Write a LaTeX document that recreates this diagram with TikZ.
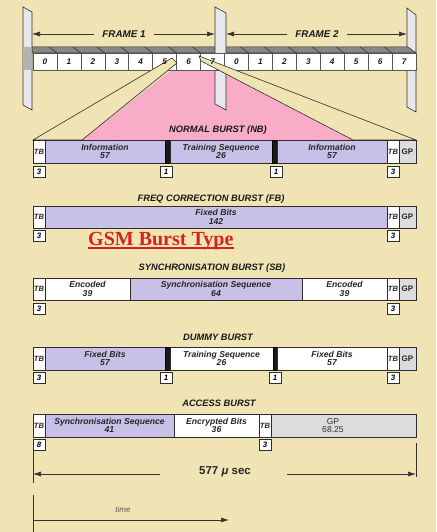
\documentclass[tikz,border=0pt]{standalone}
\usepackage{fontspec}
\setmainfont{Liberation Sans}
\newfontfamily\serifb{Liberation Serif}
\usetikzlibrary{arrows.meta}
\definecolor{bg}{RGB}{240,228,180}
\definecolor{lav}{RGB}{200,192,230}
\definecolor{pinkf}{RGB}{249,172,200}
\definecolor{gpgray}{RGB}{220,220,222}
\definecolor{edge}{RGB}{45,45,45}
\definecolor{platec}{RGB}{232,232,236}
\definecolor{topgray}{RGB}{135,135,135}
\definecolor{gsmred}{RGB}{215,35,30}
\newcommand{\bseg}[7]{\node[#6, minimum width={(#3-#2)*1pt}, minimum height={(#5-#4)*1pt}] (#1) at ({(#2+#3)/2},{(#4+#5)/2}) {#7};}
\tikzset{
  seg/.style={draw=edge, line width=0.8pt, inner sep=0pt, align=center, text=black!85,
    font=\fontsize{8.6}{8.6}\selectfont\bfseries\itshape},
  lavseg/.style={seg, fill=lav},
  whiteseg/.style={seg, fill=white},
  tbseg/.style={seg, fill=white, font=\fontsize{7.6}{7.6}\selectfont\bfseries\itshape},
  gpseg/.style={seg, fill=gpgray, font=\fontsize{8}{8}\selectfont\bfseries},
  sepseg/.style={draw=black, fill=black!90, inner sep=0pt, line width=0.5pt},
  smallbox/.style={draw=edge, fill=white, line width=0.7pt, minimum width=12pt, minimum height=11pt,
    inner sep=0pt, font=\fontsize{7.8}{7.8}\selectfont\bfseries\itshape},
  title/.style={inner sep=0pt, text=black!90, font=\fontsize{9.3}{9.3}\selectfont\bfseries\itshape},
  slot/.style={draw=edge!80, fill=white, line width=0.6pt, inner sep=0pt},
  digit/.style={inner sep=0pt, text=black!90, font=\fontsize{8.2}{8.2}\selectfont\bfseries\itshape},
  platep/.style={fill=platec, draw=edge, line width=0.6pt},
  bandp/.style={fill=bg, draw=edge, line width=0.6pt},
  arr/.style={-{Latex[length=8pt,width=5pt]}, draw=black!80, line width=0.7pt},
  vline/.style={draw=black!80, line width=0.7pt},
  lbl/.style={inner sep=0pt}
}
\begin{document}
\begin{tikzpicture}[x=1pt,y=-1pt]
\fill[bg] (0,0) rectangle (436,532);
\useasboundingbox (0,0) rectangle (436,532);

% pink funnel
\fill[pinkf] (177,66) -- (201,61) -- (353,140) -- (82,140) -- cycle;

% left and right plates (behind the strip)
\path[platep] (23,7) -- (32,12) -- (32,110) -- (23,105) -- cycle;
\fill[gray!60] (23.3,47) rectangle (31.7,70);
\path[platep] (407,8) -- (416,15) -- (416,112) -- (407,107) -- cycle;

% strip top face
\filldraw[fill=topgray, draw=edge, line width=0.5pt] (32,47) -- (408,47) -- (416,53) -- (32,53) -- cycle;
\foreach \k in {1,...,15} {
  \draw[edge, line width=0.5pt] ({33+23.9375*\k},53) -- ++(-8,-6);
}
% middle plate (in front of top face)
\path[platep] (215,7) -- (226,13) -- (226,110) -- (215,104) -- cycle;

% slots
\foreach \k in {0,...,15} {
  \node[slot, minimum width=23.94pt, minimum height=17pt] (s\k) at ({33+23.9375*\k+11.97},61.5) {};
}

% frame arrows
\node[title, font=\fontsize{9.8}{9.8}\selectfont\bfseries\itshape] (f1) at (124,34) {FRAME 1};
\node[title, font=\fontsize{9.8}{9.8}\selectfont\bfseries\itshape] (f2) at (317,34) {FRAME 2};
\coordinate (f1l) at (32,34); \coordinate (f1r) at (215,34);
\coordinate (f2l) at (226,34); \coordinate (f2r) at (407,34);
\draw[arr] ([xshift=-8pt]f1.west) -- (f1l);
\draw[arr] ([xshift=8pt]f1.east) -- (f1r);
\draw[arr] ([xshift=-8pt]f2.west) -- (f2l);
\draw[arr] ([xshift=8pt]f2.east) -- (f2r);

% funnel bands
\path[bandp] (172,58) -- (177,63) -- (82,140) -- (33,140) -- cycle;
\path[bandp] (199,56) -- (201,61) -- (353,140) -- (416,140) -- cycle;

% slot digits (on top)
\foreach \k in {0,...,15} {
  \pgfmathtruncatemacro\dd{mod(\k,8)}
  \node[digit] (d\k) at (s\k) {\dd};
}

% NORMAL BURST
\node[title] (tnb) at (218,130) {NORMAL BURST (NB)};
\bseg{nbtb1}{33}{45}{140}{163}{tbseg}{TB}
\bseg{nbi1}{45}{165}{140}{163}{lavseg}{Information\\57}
\bseg{nbs1}{165}{170}{140}{163}{sepseg}{}
\bseg{nbtr}{170}{272}{140}{163}{lavseg}{Training Sequence\\26}
\bseg{nbs2}{272}{277}{140}{163}{sepseg}{}
\bseg{nbi2}{277}{387}{140}{163}{lavseg}{Information\\57}
\bseg{nbtb2}{387}{399}{140}{163}{tbseg}{TB}
\bseg{nbgp}{399}{416}{140}{163}{gpseg}{GP}
\node[smallbox] (nbb1) at (39,172) {3};
\node[smallbox] (nbb2) at (166,172) {1};
\node[smallbox] (nbb3) at (276,172) {1};
\node[smallbox] (nbb4) at (393,172) {3};

% FREQ CORRECTION BURST
\node[title] (tfb) at (211,199) {FREQ CORRECTION BURST (FB)};
\bseg{fbtb1}{33}{45}{206}{228}{tbseg}{TB}
\bseg{fbfx}{45}{387}{206}{228}{lavseg}{Fixed Bits\\142}
\bseg{fbtb2}{387}{399}{206}{228}{tbseg}{TB}
\bseg{fbgp}{399}{416}{206}{228}{gpseg}{GP}
\node[smallbox] (fbb1) at (39,236) {3};
\node[smallbox] (fbb2) at (393,236) {3};

% GSM title
\node[anchor=base west, inner sep=0pt, text=gsmred, font=\serifb\bfseries\fontsize{20}{20}\selectfont] (gsm) at (88,245) {GSM Burst Type};
\draw[gsmred, line width=1.3pt] ([yshift=-3pt]gsm.base west) -- ([yshift=-3pt]gsm.base east);

% SYNCHRONISATION BURST
\node[title] (tsb) at (212,268) {SYNCHRONISATION BURST (SB)};
\bseg{sbtb1}{33}{45}{278}{300}{tbseg}{TB}
\bseg{sbe1}{45}{130}{278}{300}{whiteseg}{Encoded\\39}
\bseg{sbss}{130}{302}{278}{300}{lavseg}{Synchronisation Sequence\\64}
\bseg{sbe2}{302}{387}{278}{300}{whiteseg}{Encoded\\39}
\bseg{sbtb2}{387}{399}{278}{300}{tbseg}{TB}
\bseg{sbgp}{399}{416}{278}{300}{gpseg}{GP}
\node[smallbox] (sbb1) at (39,309) {3};
\node[smallbox] (sbb2) at (393,309) {3};

% DUMMY BURST
\node[title] (tdb) at (218,337) {DUMMY BURST};
\bseg{dbtb1}{33}{45}{347}{370}{tbseg}{TB}
\bseg{dbf1}{45}{165}{347}{370}{lavseg}{Fixed Bits\\57}
\bseg{dbs1}{165}{170}{347}{370}{sepseg}{}
\bseg{dbtr}{170}{273}{347}{370}{whiteseg}{Training Sequence\\26}
\bseg{dbs2}{273}{277}{347}{370}{sepseg}{}
\bseg{dbf2}{277}{387}{347}{370}{whiteseg}{Fixed Bits\\57}
\bseg{dbtb2}{387}{399}{347}{370}{tbseg}{TB}
\bseg{dbgp}{399}{416}{347}{370}{gpseg}{GP}
\node[smallbox] (dbb1) at (39,378) {3};
\node[smallbox] (dbb2) at (166,378) {1};
\node[smallbox] (dbb3) at (275,378) {1};
\node[smallbox] (dbb4) at (393,378) {3};

% ACCESS BURST
\node[title] (tab) at (219,403) {ACCESS BURST};
\bseg{abtb1}{33}{45}{414}{437}{tbseg}{TB}
\bseg{abss}{45}{174}{414}{437}{lavseg}{Synchronisation Sequence\\41}
\bseg{abeb}{174}{259}{414}{437}{whiteseg}{Encrypted Bits\\36}
\bseg{abtb2}{259}{271}{414}{437}{tbseg}{TB}
\bseg{abgp}{271}{416}{414}{437}{gpseg}{}
\node[lbl, align=center, text=black!80, font=\fontsize{8.6}{8.6}\selectfont] (abgpt) at (333,425.5) {GP\\68.25};
\node[smallbox] (abb1) at (39,445) {8};
\node[smallbox] (abb2) at (265,445) {3};

% 577 usec
\coordinate (ut1) at (33,451); \coordinate (ub1) at (33,483);
\coordinate (ut2) at (416,443); \coordinate (ub2) at (416,477);
\draw[vline] (ut1) -- (ub1);
\draw[vline] (ut2) -- (ub2);
\node[inner sep=0pt, text=black!85, font=\fontsize{11.5}{11.5}\selectfont\bfseries] (us) at (225,472) {577 \textit{μ} sec};
\coordinate (ua1) at (160,474); \coordinate (ua2) at (33,474);
\coordinate (ub3) at (287,474); \coordinate (ub4) at (416,474);
\draw[arr] (ua1) -- (ua2);
\draw[arr] (ub3) -- (ub4);

% time
\coordinate (tt) at (33,495); \coordinate (tb) at (33,532);
\draw[vline] (tt) -- (tb);
\coordinate (ts) at (33,520); \coordinate (te) at (229,520);
\draw[arr] (ts) -- (te);
\node[inner sep=0pt, text=black!65, font=\fontsize{8}{8}\selectfont\itshape] (tlab) at (123,510) {time};
\end{tikzpicture}
\end{document}
